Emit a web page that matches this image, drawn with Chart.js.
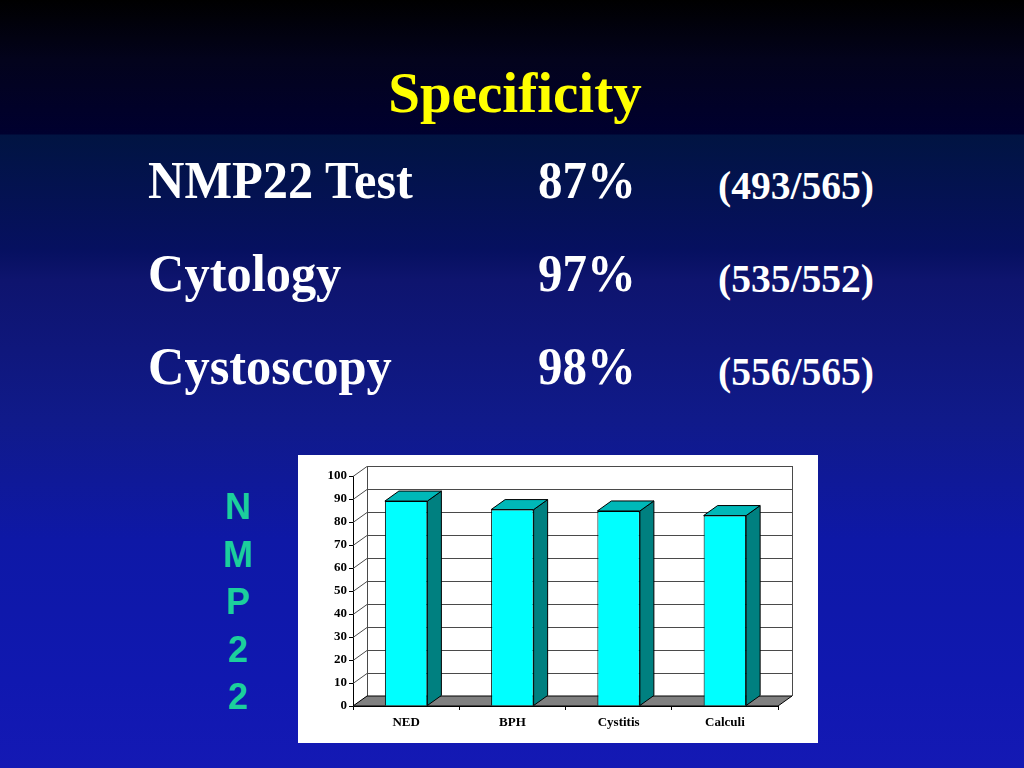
<!DOCTYPE html>
<html>
<head>
<meta charset="utf-8">
<script src="https://cdn.jsdelivr.net/npm/chart.js@4.4.1/dist/chart.umd.min.js"></script>
<style>
  html, body { margin:0; padding:0; }
  body {
    width:1024px; height:768px; overflow:hidden; position:relative;
    background: linear-gradient(to bottom,
      #000000 0px, #03031c 60px, #00002f 134px,
      #011442 135px, #061060 250px, #0e146e 280px, #101a8a 420px,
      #0e18a6 540px, #1018b0 680px, #1419b4 768px);
  }
  .t { position:absolute; white-space:nowrap; font-family:"Liberation Serif","Times New Roman",serif; font-weight:bold; color:#fff; transform-origin:left top; }
  #title { color:#ffff00; font-size:57px; line-height:57px; top:64px; left:0; width:1030px; text-align:center; transform:none; }
  .row { font-size:52px; line-height:52px; transform:scaleX(0.97); }
  .pct { font-size:52px; line-height:52px; transform:scaleX(0.94); }
  .frac { font-size:41px; line-height:52px; transform:scaleX(0.965); }
  #side { position:absolute; left:218px; top:483px; width:40px; text-align:center;
    font-family:"Liberation Sans", Arial, sans-serif; font-weight:bold; font-size:36px; line-height:47.5px; color:#1ccf9c; }
  #box { position:absolute; left:298px; top:455px; width:520px; height:288px; background:#fff; }
</style>
</head>
<body>
<div class="t" id="title">Specificity</div>

<div class="t row" style="left:148px; top:155px;">NMP22 Test</div>
<div class="t pct" style="left:538px; top:155px;">87%</div>
<div class="t frac" style="left:718px; top:159px;">(493/565)</div>

<div class="t row" style="left:148px; top:248px;">Cytology</div>
<div class="t pct" style="left:538px; top:248px;">97%</div>
<div class="t frac" style="left:718px; top:252px;">(535/552)</div>

<div class="t row" style="left:148px; top:341px;">Cystoscopy</div>
<div class="t pct" style="left:538px; top:341px;">98%</div>
<div class="t frac" style="left:718px; top:345px;">(556/565)</div>

<div id="side">N<br>M<br>P<br>2<br>2</div>

<div id="box"><canvas id="c" width="520" height="288"></canvas></div>

<script>
const categories = ["NED", "BPH", "Cystitis", "Calculi"];
const specificityValues = [89.1, 85.4, 84.8, 82.8];
const yTickMin = 0;
const yTickMax = 100;
const yTickStep = 10;

const DX = 14, DY = -10;

const wallPlugin = {
  id: 'wall3d',
  beforeDatasetsDraw(chart) {
    const ctx = chart.ctx, a = chart.chartArea, ys = chart.scales.y;
    ctx.save();
    ctx.lineWidth = 1;
    ctx.strokeStyle = '#4a4a4a';
    for (let v = yTickMin; v <= yTickMax; v += yTickStep) {
      const y = Math.round(ys.getPixelForValue(v)) + 0.5;
      ctx.beginPath();
      ctx.moveTo(a.left, y);
      ctx.lineTo(a.left + DX, y + DY);
      ctx.lineTo(a.right + DX, y + DY);
      ctx.stroke();
    }
    ctx.beginPath();
    ctx.moveTo(a.left + DX + 0.5, a.top + DY);
    ctx.lineTo(a.left + DX + 0.5, a.bottom + DY);
    ctx.moveTo(a.right + DX + 0.5, a.top + DY);
    ctx.lineTo(a.right + DX + 0.5, a.bottom + DY);
    ctx.stroke();
    // floor
    ctx.beginPath();
    ctx.moveTo(a.left, a.bottom);
    ctx.lineTo(a.right, a.bottom);
    ctx.lineTo(a.right + DX, a.bottom + DY);
    ctx.lineTo(a.left + DX, a.bottom + DY);
    ctx.closePath();
    ctx.fillStyle = '#808080';
    ctx.fill();
    ctx.strokeStyle = '#000';
    ctx.stroke();
    ctx.restore();
  },
  afterDatasetsDraw(chart) {
    const ctx = chart.ctx;
    const meta = chart.getDatasetMeta(0);
    ctx.save();
    ctx.lineWidth = 1;
    ctx.strokeStyle = '#000';
    meta.data.forEach(bar => {
      const p = bar.getProps(['x', 'y', 'base', 'width'], true);
      const x1 = p.x - p.width / 2, x2 = p.x + p.width / 2;
      ctx.beginPath();
      ctx.moveTo(x2, p.y);
      ctx.lineTo(x2 + DX, p.y + DY);
      ctx.lineTo(x2 + DX, p.base + DY);
      ctx.lineTo(x2, p.base);
      ctx.closePath();
      ctx.fillStyle = '#008080';
      ctx.fill(); ctx.stroke();
      ctx.beginPath();
      ctx.moveTo(x1, p.y);
      ctx.lineTo(x1 + DX, p.y + DY);
      ctx.lineTo(x2 + DX, p.y + DY);
      ctx.lineTo(x2, p.y);
      ctx.closePath();
      ctx.fillStyle = '#00b8b8';
      ctx.fill(); ctx.stroke();
    });
    ctx.restore();
  }
};

const tickFont = { family: "'Liberation Serif','Times New Roman',serif", weight: 'bold', size: 13 };

new Chart(document.getElementById('c'), {
  type: 'bar',
  data: {
    labels: categories,
    datasets: [{
      data: specificityValues,
      backgroundColor: '#00ffff',
      borderColor: '#000',
      borderWidth: 1,
      barPercentage: 0.4,
      categoryPercentage: 1.0
    }]
  },
  options: {
    responsive: false,
    devicePixelRatio: 1,
    animation: false,
    layout: { padding: { left: 0, right: 40, top: 21, bottom: 0 } },
    plugins: { legend: { display: false }, tooltip: { enabled: false } },
    scales: {
      y: {
        min: yTickMin, max: yTickMax,
        ticks: { stepSize: yTickStep, color: '#000', font: tickFont, padding: 2 },
        grid: { drawOnChartArea: false, drawTicks: true, tickLength: 4, color: '#000' },
        border: { display: true, color: '#000' },
        afterFit(s) { s.width = 55; }
      },
      x: {
        ticks: { color: '#000', font: tickFont, padding: 5 },
        grid: { drawOnChartArea: false, drawTicks: true, tickLength: 4, color: '#000', offset: true },
        border: { display: true, color: '#000' },
        afterFit(s) { s.height = 37; }
      }
    }
  },
  plugins: [wallPlugin]
});
</script>
</body>
</html>
